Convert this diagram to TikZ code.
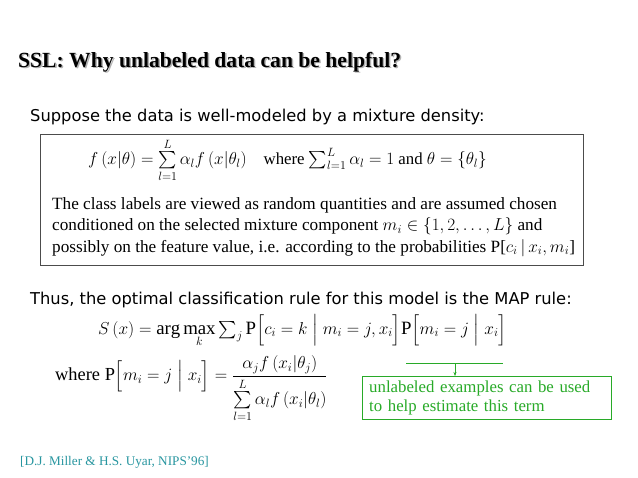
\documentclass[tikz,border=0pt]{standalone}
\usepackage{amsmath}
\usepackage{fontspec}
\usetikzlibrary{arrows.meta}
\setmainfont{Liberation Serif}
\newfontfamily\comic{DejaVu Sans}
\definecolor{gr}{RGB}{40,170,40}
\definecolor{teal2}{RGB}{40,150,160}
\begin{document}
\begin{tikzpicture}[x=1pt,y=-1pt,
  every node/.style={inner sep=0pt,anchor=west},
  body/.style={font=\comic\fontsize{16.3}{18}\selectfont}]
\useasboundingbox (0,0) rectangle (638,478);
\fill[white] (0,0) rectangle (638,478);
\node[text=gray!60,font=\bfseries\fontsize{21.6}{24}\selectfont] (tsh) at (19.5,63.5) {SSL: Why unlabeled data can be helpful?};
\node[font=\bfseries\fontsize{21.6}{24}\selectfont] (t) at (18,62) {SSL: Why unlabeled data can be helpful?};
\node[body] (s) at (30,117) {Suppose the data is well-modeled by a mixture density:};
\draw[black!70,line width=0.8pt] (40,134) rectangle (583,265);
\node[font=\fontsize{16.8}{18}\selectfont] (f) at (88,160) {$f\left(x\middle|\theta\right)=\sum\limits_{l=1}^{L}\alpha_l f\left(x\middle|\theta_l\right)$\quad where $\sum_{l=1}^{L}\alpha_l=1$ and $\theta=\{\theta_l\}$};
\node[font=\fontsize{17.2}{21.5}\selectfont,align=left,anchor=north west] (p) at (52,197) {The class labels are viewed as random quantities and are assumed chosen\\conditioned on the selected mixture component $m_i\in\{1,2,\ldots,L\}$ and\\possibly on the feature value, i.e. according to the probabilities P[$c_i\,|\,x_i,m_i$]};
\node[body] (th) at (30,300) {Thus, the optimal classification rule for this model is the MAP rule:};
\node[font=\fontsize{18.8}{20}\selectfont] (S) at (98,331) {$S\left(x\right)=\arg\max\limits_k\sum_j \mathrm{P}\Bigl[c_i=k\Bigm|m_i=j,x_i\Bigr]\mathrm{P}\Bigl[m_i=j\Bigm|x_i\Bigr]$};
\coordinate (u1) at (406,364); \coordinate (u2) at (503,364);
\draw[gr,line width=1pt] (u1) -- (u2);
\coordinate (um) at (455,364);
\draw[gr,-{Stealth[length=4pt]}] (um) -- (455,376);
\node[font=\fontsize{18.4}{20}\selectfont] (w) at (55,389) {where $\mathrm{P}\Bigl[m_i=j\Bigm|x_i\Bigr]=\dfrac{\alpha_j f\left(x_i\middle|\theta_j\right)}{\sum\limits_{l=1}^{L}\alpha_l f\left(x_i\middle|\theta_l\right)}$};
\node[draw=gr,text=gr,font=\fontsize{16.8}{19}\selectfont,align=left,anchor=north west,inner xsep=7pt,inner ysep=3pt,text width=235pt,minimum height=43pt] (g) at (362,376) {unlabeled examples can be used\\to help estimate this term};
\node[text=teal2,font=\fontsize{13.2}{15}\selectfont] (c) at (20,462) {[D.J. Miller \& H.S. Uyar, NIPS'96]};
\end{tikzpicture}
\end{document}
